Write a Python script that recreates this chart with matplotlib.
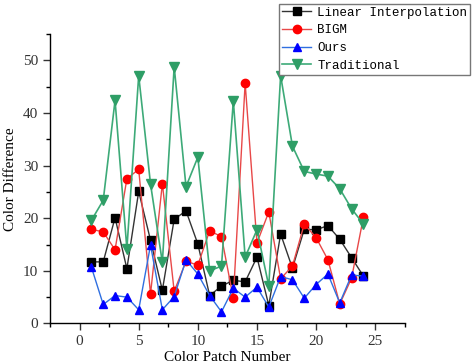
import matplotlib
matplotlib.use('Agg')
import matplotlib.pyplot as plt
from matplotlib.ticker import MultipleLocator

patch = list(range(1, 25))
linear = [11.7, 11.7, 20.1, 10.4, 25.1, 15.8, 6.3, 19.8, 21.4, 15.1, 5.3, 7.1,
          8.2, 7.9, 12.6, 3.4, 17.0, 10.5, 17.9, 17.8, 18.6, 16.0, 12.5, 9.0]
bigm = [17.9, 17.4, 14.0, 27.5, 29.3, 5.6, 26.6, 6.1, 11.8, 11.1, 17.6, 16.5,
        4.8, 45.7, 15.3, 21.2, 8.5, 10.9, 18.9, 16.3, 12.1, 3.7, 8.6, 20.2]
ours = [10.7, 3.6, 5.3, 5.0, 2.6, 14.9, 2.6, 5.1, 12.1, 9.4, 5.3, 2.2,
        6.7, 5.0, 6.9, 3.1, 8.9, 8.3, 4.8, 7.4, 9.4, 3.9, 9.2, 9.0]
traditional = [19.6, 23.4, 42.4, 14.2, 47.1, 26.5, 11.6, 48.8, 26.0, 31.6, 10.0, 10.9,
               42.3, 12.6, 17.8, 7.1, 47.1, 33.7, 28.9, 28.4, 28.0, 25.6, 21.8, 18.9]

fig = plt.figure(figsize=(4.74, 3.63), dpi=100)
ax = fig.add_axes([0.1055, 0.109, 0.7485, 0.797])

serif = 'Liberation Serif'
ax.plot(patch, linear, color='#333333', lw=1.0, marker='s', ms=5.5,
        mfc='black', mec='black', label='Linear Interpolation')
ax.plot(patch, bigm, color='#E84848', lw=1.0, marker='o', ms=6,
        mfc='red', mec='red', label='BIGM')
ax.plot(patch, ours, color='#2F6FE0', lw=1.0, marker='^', ms=6,
        mfc='blue', mec='blue', label='Ours')
ax.plot(patch, traditional, color='#3DAA78', lw=1.2, marker='v', ms=6.5,
        mfc='#2E9E66', mec='#2E9E66', label='Traditional')

ax.set_xlim(-2.5, 27.5)
ax.set_ylim(0, 55)
ax.xaxis.set_major_locator(MultipleLocator(5))
ax.xaxis.set_minor_locator(MultipleLocator(2.5))
ax.yaxis.set_major_locator(MultipleLocator(10))
ax.yaxis.set_minor_locator(MultipleLocator(5))
ax.spines['top'].set_visible(False)
ax.spines['right'].set_visible(False)
for s in ['left', 'bottom']:
    ax.spines[s].set_linewidth(1.0)
ax.tick_params(which='major', direction='out', length=5, width=1.0,
               labelsize=11, colors='#333333')
ax.tick_params(which='minor', direction='out', length=3, width=1.0)
for lab in ax.get_xticklabels() + ax.get_yticklabels():
    lab.set_fontfamily(serif)

ax.set_xlabel('Color Patch Number', fontsize=11, family=serif, labelpad=2)
ax.set_ylabel('Color Difference', fontsize=11, family=serif, labelpad=4)

leg = ax.legend(loc='upper left', bbox_to_anchor=(0.589, 0.99),
                bbox_transform=fig.transFigure, fancybox=False,
                edgecolor='#777777', framealpha=1, borderpad=0.25,
                labelspacing=0.45, handlelength=2.3, handletextpad=0.5,
                borderaxespad=0, prop={'family': 'Liberation Mono', 'size': 9})
leg.get_frame().set_linewidth(1.0)

fig.savefig('out.png', dpi=100)
